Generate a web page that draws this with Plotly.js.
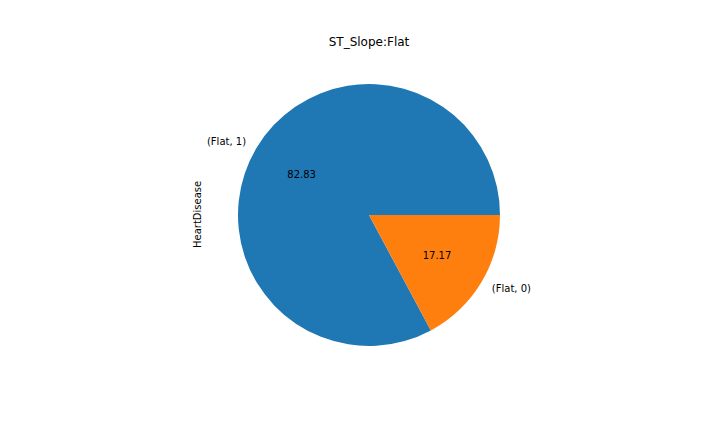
<!DOCTYPE html>
<html>
<head>
<meta charset="utf-8">
<script src="https://cdn.plot.ly/plotly-3.0.1.min.js"></script>
<style>html,body{margin:0;padding:0;background:#fff;}#chart{width:720px;height:432px;}</style>
</head>
<body>
<div id="chart"></div>
<script>
const categories = ["(Flat, 1)", "(Flat, 0)"];
const counts = [381, 79];
const colors = ["#1f77b4", "#ff7f0e"];
const chartTitle = "ST_Slope:Flat";
const yLabel = "HeartDisease";

const total = counts.reduce((a, b) => a + b, 0);
const pctText = counts.map(v => (v / total * 100).toFixed(2));
// first slice starts at 3 o'clock and runs counterclockwise (matplotlib default)
const rot = 90 + 360 * counts[1] / total;

// pie centre (px) and radius helpers for domains
const W = 720, H = 432, CX = 369, CY = 217;
function dom(r) {
  return {x: [(CX - r) / W, (CX + r) / W], y: [(CY - r) / H, (CY + r) / H]};
}
const font = {family: "DejaVu Sans", size: 10, color: "#000"};
const clear = ["rgba(0,0,0,0)", "rgba(0,0,0,0)"];

function base(extra) {
  return Object.assign({
    type: "pie", values: counts, labels: categories, sort: false,
    direction: "counterclockwise", rotation: rot,
    hoverinfo: "skip", showlegend: false
  }, extra);
}

const traces = [
  base({marker: {colors: colors, line: {width: 0}}, textinfo: "none", domain: dom(131)}),
  base({marker: {colors: clear, line: {width: 0}}, text: [pctText[0], ""], textinfo: "text",
        textposition: "inside", insidetextorientation: "horizontal", insidetextfont: font,
        domain: dom(157)}),
  base({marker: {colors: clear, line: {width: 0}}, text: ["", pctText[1]], textinfo: "text",
        textposition: "inside", insidetextorientation: "horizontal", insidetextfont: font,
        domain: dom(120)}),
  base({marker: {colors: clear, line: {width: 0}}, textinfo: "label",
        textposition: "outside", outsidetextfont: font, domain: dom(140)})
];

Plotly.newPlot("chart", traces, {
  width: W, height: H,
  margin: {l: 0, r: 0, t: 0, b: 0},
  paper_bgcolor: "#fff",
  showlegend: false,
  title: {text: chartTitle, font: {family: "DejaVu Sans", size: 12, color: "#000"},
          x: 0.5125, xanchor: "center", y: 1 - 42 / H, yanchor: "middle"},
  annotations: [{
    text: yLabel, textangle: -90, showarrow: false,
    xref: "paper", yref: "paper", x: 197 / W, y: 217 / H,
    xanchor: "center", yanchor: "middle",
    font: {family: "DejaVu Sans", size: 10, color: "#000"}
  }]
}, {displayModeBar: false, staticPlot: true});
</script>
</body>
</html>
